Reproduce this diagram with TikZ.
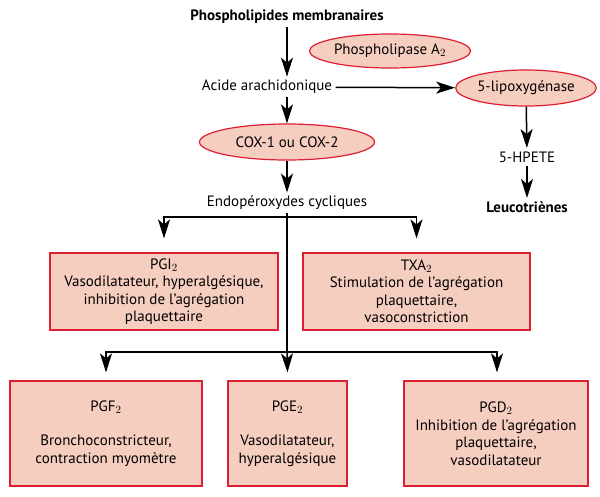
\documentclass[tikz,border=0pt]{standalone}
\usepackage{fontspec}
\setmainfont{PT Sans}
\usepackage{tikz}
\usetikzlibrary{positioning,shapes.geometric,arrows.meta}
\definecolor{boxfill}{RGB}{246,206,192}
\definecolor{boxline}{RGB}{222,30,50}
\begin{document}
\begin{tikzpicture}[x=1pt, y=-1pt,
enzyme/.style = {ellipse, draw=boxline, fill=boxfill, line width=1.2pt, inner sep=1pt},
effect/.style = {rectangle, draw=boxline, fill=boxfill, line width=1.2pt, align=center, inner sep=2pt},
arr/.style = {-{Stealth[length=19pt,width=12pt,inset=5pt]}, line width=1.5pt}]
\tikzstyle{every node}=[font=\fontsize{15}{17.5}\selectfont]
\useasboundingbox (0,0) rectangle (600,496);
\node[font=\fontsize{15}{17.5}\selectfont\bfseries] (phos) at (287,17) {Phospholipides membranaires};
\node (aa) at (267,87) {Acide arachidonique};
\node[enzyme, minimum width=160, minimum height=34] (pla) at (390,51) {Phospholipase A$_2$};
\node[enzyme, minimum width=128, minimum height=36] (lox) at (526,88) {5-lipoxygénase};
\node (hpete) at (527,157) {5-HPETE};
\node[font=\fontsize{15}{17.5}\selectfont\bfseries] (leuco) at (527,207) {Leucotriènes};
\node[enzyme, minimum width=175, minimum height=36] (cox) at (287,142) {COX-1 ou COX-2};
\node (endo) at (287,203) {Endopéroxydes cycliques};
\node[effect, minimum width=228, minimum height=77] (pgi) at (164,291.5) {PGI$_2$\\Vasodilatateur, hyperalgésique,\\inhibition de l’agrégation\\plaquettaire};
\node[effect, minimum width=227, minimum height=77] (txa) at (416.5,291.5) {TXA$_2$\\Stimulation de l’agrégation\\plaquettaire,\\vasoconstriction};
\node[effect, minimum width=192, minimum height=105] (pgf) at (106,433.5) {PGF$_2$\\[17pt]Bronchoconstricteur,\\contraction myomètre};
\node[effect, minimum width=119, minimum height=105] (pge) at (287.5,433.5) {PGE$_2$\\[17pt]Vasodilatateur,\\hyperalgésique};
\node[effect, minimum width=184, minimum height=105] (pgd) at (496,433.5) {PGD$_2$\\Inhibition de l’agrégation\\plaquettaire,\\vasodilatateur};
\coordinate (split) at (287,217);
\coordinate (fork) at (287,352);
\draw[arr] (phos) -- (aa.north -| phos);
\draw[arr] (aa.south -| phos) -- (cox);
\draw[arr] (aa) -- (lox);
\draw[arr] (lox) -- (hpete);
\draw[arr] (hpete) -- (leuco);
\draw[arr] (cox) -- (endo.north);
\draw[line width=1.5pt] (endo.south) -- (fork);
\draw[arr] (split) -| ([yshift=14pt]pgi.north);
\draw[arr] (split) -| ([yshift=14pt]txa.north);
\draw[arr] (fork) -| ([yshift=8pt]pgf.north);
\draw[arr] (fork) -| ([yshift=8pt]pgd.north -| 497,0);
\draw[arr] (fork) -- ([yshift=8pt]pge.north);
\end{tikzpicture}
\end{document}
